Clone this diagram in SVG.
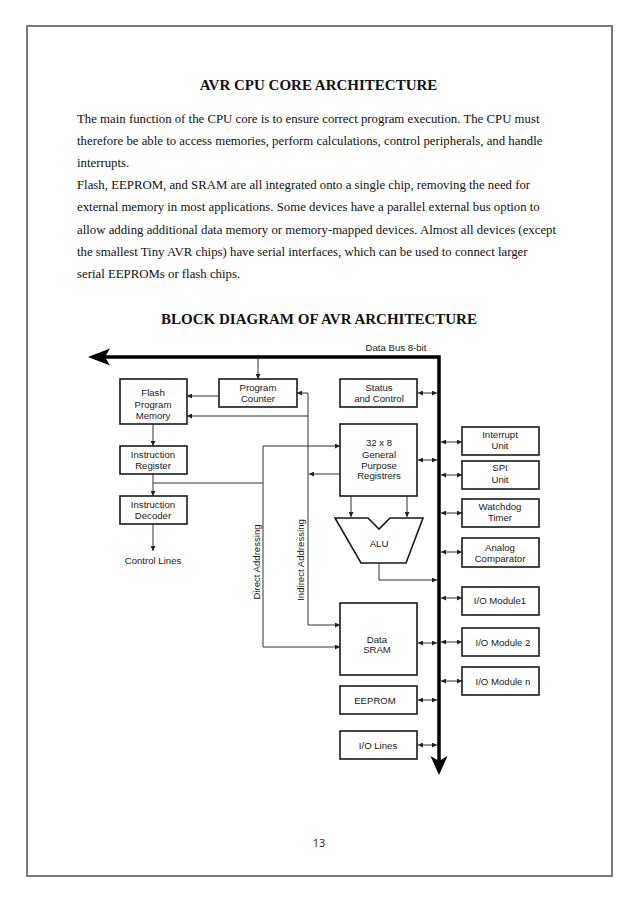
<svg xmlns="http://www.w3.org/2000/svg" width="638" height="902" viewBox="0 0 638 902">
<style>
.page{fill:#fff;stroke:#7a7a7a;stroke-width:2}
.body{font-family:"Liberation Serif","Times New Roman",serif;font-size:12.8px;fill:#111}
.ttl{font-family:"Liberation Serif","Times New Roman",serif;font-size:15px;font-weight:bold;fill:#111;text-anchor:middle}
.box{fill:#fff;stroke:#1a1a1a;stroke-width:1.6}
.lbl{font-family:"Liberation Sans",Arial,sans-serif;font-size:9.6px;fill:#1a1a1a;text-anchor:middle}
.ln{fill:none;stroke:#333;stroke-width:1}
.arr{marker-end:url(#ah)}
.dbl{marker-start:url(#ah);marker-end:url(#ah)}
.bus{fill:none;stroke:#000;stroke-width:3.5;stroke-linejoin:miter}
.pn{font-family:"Open Sans","Noto Sans",sans-serif;font-size:11px;fill:#222;text-anchor:middle}
</style>
<defs>
<marker id="ah" viewBox="0 0 10 10" refX="10" refY="5" markerWidth="6" markerHeight="5" markerUnits="userSpaceOnUse" orient="auto-start-reverse">
<path d="M0,0 L10,5 L0,10 z" fill="#222"/>
</marker>
</defs>
<rect class="page" x="27" y="26" width="585" height="850"/>
<text class="ttl" x="318.5" y="90">AVR CPU CORE ARCHITECTURE</text>
<g class="body">
<text x="77" y="123">The main function of the CPU core is to ensure correct program execution. The CPU must</text>
<text x="77" y="145">therefore be able to access memories, perform calculations, control peripherals, and handle</text>
<text x="77" y="167">interrupts.</text>
<text x="77" y="189">Flash, EEPROM, and SRAM are all integrated onto a single chip, removing the need for</text>
<text x="77" y="211">external memory in most applications. Some devices have a parallel external bus option to</text>
<text x="77" y="233.5">allow adding additional data memory or memory-mapped devices. Almost all devices (except</text>
<text x="77" y="256">the smallest Tiny AVR chips) have serial interfaces, which can be used to connect larger</text>
<text x="77" y="277.5">serial EEPROMs or flash chips.</text>
</g>
<text class="ttl" x="319" y="324">BLOCK DIAGRAM OF AVR ARCHITECTURE</text>

<g id="connectors">
<path class="bus" d="M104 357 H439 V762"/>
<polygon points="88,357 110,348.5 105,357 110,365.5" fill="#000"/>
<polygon points="439,775 430.5,756 439,761 447.5,756" fill="#000"/>
<text class="lbl" x="396" y="350.5">Data Bus 8-bit</text>
<path class="ln arr" d="M258 358 V379"/>
<path class="ln arr" d="M219 396 H187"/>
<path class="ln dbl" d="M297 393 H308 V625 H340"/>
<path class="ln arr" d="M308 416 H187"/>
<path class="ln arr" d="M340 474 H309"/>
<path class="ln arr" d="M153 424 V446"/>
<path class="ln arr" d="M153 474 V496"/>
<path class="ln" d="M153 483 H263"/>
<path class="ln dbl" d="M340 446 H263 V647 H340"/>
<path class="ln arr" d="M153 524 V551"/>
<path class="ln arr" d="M351 496 V517"/>
<path class="ln arr" d="M407 496 V517"/>
<path class="ln arr" d="M379 563 V580 H437"/>
<path class="ln dbl" d="M418 393 H437"/>
<path class="ln dbl" d="M418 460 H437"/>
<path class="ln dbl" d="M418 643 H437"/>
<path class="ln dbl" d="M418 700 H437"/>
<path class="ln dbl" d="M418 745 H437"/>
<path class="ln dbl" d="M441 442 H462"/>
<path class="ln dbl" d="M441 475 H462"/>
<path class="ln dbl" d="M441 513 H462"/>
<path class="ln dbl" d="M441 552 H462"/>
<path class="ln dbl" d="M441 598 H462"/>
<path class="ln dbl" d="M441 642 H462"/>
<path class="ln dbl" d="M441 681 H462"/>
<text class="lbl" x="153" y="563.5">Control Lines</text>
<text class="lbl" transform="translate(259.5 562) rotate(-90)">Direct Addressing</text>
<text class="lbl" transform="translate(303.5 560) rotate(-90)">Indirect Addressing</text>
</g>

<g id="flash"><rect class="box" x="120" y="379" width="67" height="45"/>
<text class="lbl" x="153" y="396">Flash</text><text class="lbl" x="153" y="407.5">Program</text><text class="lbl" x="153" y="418.5">Memory</text></g>
<g id="pc"><rect class="box" x="219" y="379" width="78" height="28"/>
<text class="lbl" x="258" y="391">Program</text><text class="lbl" x="258" y="402">Counter</text></g>
<g id="ir"><rect class="box" x="120" y="446" width="67" height="28"/>
<text class="lbl" x="153" y="457.5">Instruction</text><text class="lbl" x="153" y="468.5">Register</text></g>
<g id="id"><rect class="box" x="120" y="496" width="67" height="28"/>
<text class="lbl" x="153" y="508">Instruction</text><text class="lbl" x="153" y="518.5">Decoder</text></g>
<g id="status"><rect class="box" x="340" y="379" width="77" height="28"/>
<text class="lbl" x="379" y="391">Status</text><text class="lbl" x="379" y="402">and Control</text></g>
<g id="regs"><rect class="box" x="340" y="424" width="77" height="72"/>
<text class="lbl" x="379" y="446">32 x 8</text><text class="lbl" x="379" y="457.5">General</text><text class="lbl" x="379" y="468.5">Purpose</text><text class="lbl" x="379" y="479">Registrers</text></g>
<g id="alu"><polygon class="box" points="335,518 368,518 379,529 390,518 423,518 406,563 361,563"/>
<text class="lbl" x="379" y="547">ALU</text></g>
<g id="sram"><rect class="box" x="340" y="603" width="77" height="72"/>
<text class="lbl" x="377" y="642.5">Data</text><text class="lbl" x="377" y="653">SRAM</text></g>
<g id="eeprom"><rect class="box" x="340" y="686" width="77" height="28"/>
<text class="lbl" x="375" y="703.5">EEPROM</text></g>
<g id="iolines"><rect class="box" x="340" y="731" width="77" height="28"/>
<text class="lbl" x="378" y="749">I/O Lines</text></g>
<g id="interrupt"><rect class="box" x="462" y="427" width="77" height="28"/>
<text class="lbl" x="500" y="438">Interrupt</text><text class="lbl" x="500" y="448.5">Unit</text></g>
<g id="spi"><rect class="box" x="462" y="461" width="77" height="28"/>
<text class="lbl" x="500" y="471">SPI</text><text class="lbl" x="500" y="482.5">Unit</text></g>
<g id="watchdog"><rect class="box" x="462" y="499" width="77" height="28"/>
<text class="lbl" x="500" y="510">Watchdog</text><text class="lbl" x="500" y="521">Timer</text></g>
<g id="analog"><rect class="box" x="462" y="538" width="77" height="29"/>
<text class="lbl" x="500" y="551">Analog</text><text class="lbl" x="500" y="562">Comparator</text></g>
<g id="io1"><rect class="box" x="462" y="587" width="77" height="28"/>
<text class="lbl" x="500" y="604">I/O Module1</text></g>
<g id="io2"><rect class="box" x="462" y="628" width="77" height="28"/>
<text class="lbl" x="503" y="646">I/O Module 2</text></g>
<g id="ion"><rect class="box" x="462" y="667" width="77" height="28"/>
<text class="lbl" x="503" y="684.5">I/O Module n</text></g>

<text class="pn" x="319" y="847">13</text>
</svg>
